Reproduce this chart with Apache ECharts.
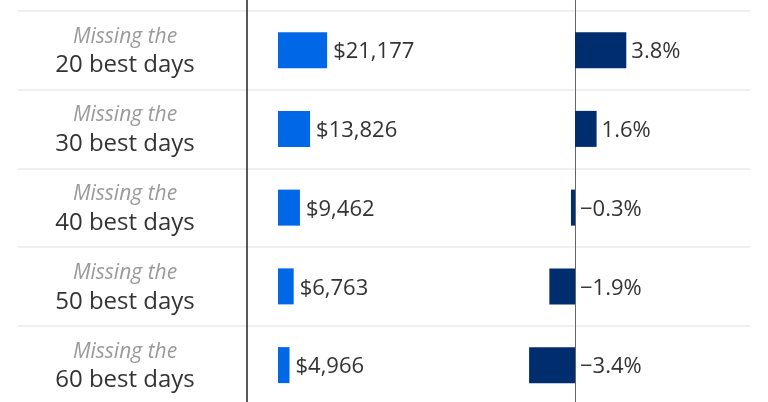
<!DOCTYPE html>
<html>
<head>
<meta charset="utf-8">
<script src="https://cdn.jsdelivr.net/npm/echarts@6.0.0/dist/echarts.min.js"></script>
<style>
  html, body { margin: 0; padding: 0; background: #fff; }
  #chart { width: 768px; height: 402px; }
</style>
</head>
<body>
<div id="chart"></div>
<script>
// first row is the one cut off at the top of the picture, left empty
const categories = ['', '20 best days', '30 best days', '40 best days', '50 best days', '60 best days'];
const endValues = [null, 21177, 13826, 9462, 6763, 4966];
const annualReturns = [null, 3.8, 1.6, -0.3, -1.9, -3.4];

const FONT = '"Open Sans"';
const TEXT = '#333333';

const chart = echarts.init(document.getElementById('chart'), null, { renderer: 'canvas' });

// shared row layout for the three grids (rows run past the picture edges)
const rowTop = -68;
const rowHeight = 472.5;

const catAxis = (gridIndex, extra) => Object.assign({
    type: 'category',
    gridIndex,
    data: categories,
    inverse: true,
    axisTick: { show: false },
    axisLabel: { show: false },
    axisLine: { show: false },
    splitLine: { show: false }
}, extra);

const option = {
    animation: false,
    backgroundColor: '#ffffff',
    grid: [
        { left: 18, width: 732, top: rowTop, height: rowHeight, outerBoundsMode: 'none' },
        { left: 278, width: 232, top: rowTop, height: rowHeight, outerBoundsMode: 'none' },
        { left: 440, width: 270, top: rowTop, height: rowHeight, outerBoundsMode: 'none' }
    ],
    xAxis: [
        { type: 'value', gridIndex: 0, min: 0, max: 1, show: false },
        { type: 'value', gridIndex: 1, min: 0, max: 100000, show: false },
        { type: 'value', gridIndex: 2, min: -10, max: 10, show: false }
    ],
    yAxis: [
        // label column + row separators + dark divider line
        catAxis(0, {
            offset: -229,
            axisLine: { show: true, lineStyle: { color: '#222', width: 1.5 } },
            splitLine: { show: true, lineStyle: { color: '#ebebeb', width: 1.5 } },
            axisLabel: {
                show: true,
                align: 'center',
                margin: 122,
                formatter: v => v ? '{a|Missing the}\n{b|' + v + '}' : '',
                rich: {
                    a: { fontFamily: FONT, fontStyle: 'italic', fontSize: 21, color: '#9a9a9a', lineHeight: 29, align: 'center', padding: [2, 0, 0, 0] },
                    b: { fontFamily: FONT, fontSize: 24, color: TEXT, lineHeight: 29, align: 'center', padding: [2, 0, 0, 0] }
                }
            }
        }),
        catAxis(1),
        // zero line of the return bars
        catAxis(2, {
            axisLine: { show: true, onZero: true, lineStyle: { color: '#666', width: 1 } }
        })
    ],
    series: [
        {
            type: 'bar',
            xAxisIndex: 1,
            yAxisIndex: 1,
            data: endValues,
            barWidth: 36,
            itemStyle: { color: '#0067e6' },
            label: {
                show: true,
                position: 'right',
                distance: 6,
                offset: [0, 2],
                fontFamily: FONT,
                fontSize: 22,
                color: TEXT,
                formatter: p => '$' + p.value.toLocaleString('en-US')
            }
        },
        {
            type: 'bar',
            xAxisIndex: 2,
            yAxisIndex: 2,
            data: annualReturns,
            barWidth: 36,
            itemStyle: { color: '#002d6e' },
            label: {
                show: true,
                position: 'right',
                distance: 5,
                offset: [0, 2],
                fontFamily: FONT,
                fontSize: 22,
                color: TEXT,
                formatter: p => (p.value < 0 ? '\u2212' : '') + Math.abs(p.value).toFixed(1) + '%'
            }
        }
    ]
};

chart.setOption(option);
</script>
</body>
</html>
